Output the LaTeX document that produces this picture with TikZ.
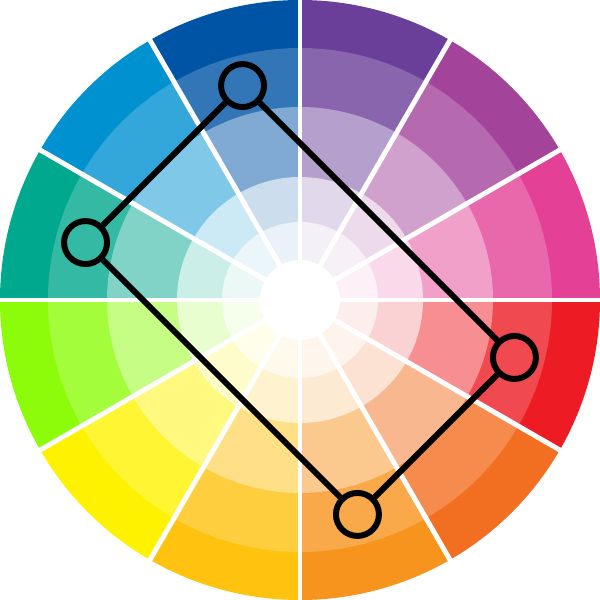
\documentclass[tikz,border=0pt]{standalone}
\usepackage{tikz}
\usepackage{xcolor}

\definecolor{hueBlue}{HTML}{0054A6}
\definecolor{hueCyan}{HTML}{0091D0}
\definecolor{hueTeal}{HTML}{00A88E}
\definecolor{hueLime}{HTML}{8CFC0A}
\definecolor{hueYellow}{HTML}{FFF200}
\definecolor{hueAmber}{HTML}{FFC20E}
\definecolor{hueOrange}{HTML}{F7941D}
\definecolor{hueRust}{HTML}{F26F21}
\definecolor{hueRed}{HTML}{ED1C24}
\definecolor{huePink}{HTML}{E44196}
\definecolor{hueMagenta}{HTML}{A3449A}
\definecolor{huePurple}{HTML}{6A3F99}

\begin{document}
\begin{tikzpicture}[
  spoke/.style={draw=white,line width=1.4pt},
  pick/.style={circle,draw=black,line width=1.7pt,minimum size=0.43cm,inner sep=0pt},
  link/.style={draw=black,line width=1.7pt}]

  \useasboundingbox (-3,-3) rectangle (3,3);

  % shades of each hue, from the rim inwards
  \foreach \a/\c in {90/hueBlue,120/hueCyan,150/hueTeal,180/hueLime,
                     210/hueYellow,240/hueAmber,270/hueOrange,300/hueRust,
                     330/hueRed,0/huePink,30/hueMagenta,60/huePurple}
    \foreach \r/\p in {3/100,2.52/80,1.93/50,1.23/20,0.78/8}
      \fill[\c!\p!white] (0,0) -- (\a:\r) arc (\a:\a+30:\r) -- cycle;

  \foreach \a in {0,30,...,330}
    \draw[spoke] (0,0) -- (\a:3.05);
  \fill[white] (0,0) circle (0.40);

  \node[pick] (blue) at (105:2.22) {};
  \node[pick] (teal) at (165:2.22) {};
  \node[pick] (red) at (-15:2.22) {};
  \node[pick] (orange) at (-75:2.22) {};

  \draw[link] (blue) -- (teal);
  \draw[link] (teal) -- (orange);
  \draw[link] (orange) -- (red);
  \draw[link] (red) -- (blue);
\end{tikzpicture}
\end{document}
